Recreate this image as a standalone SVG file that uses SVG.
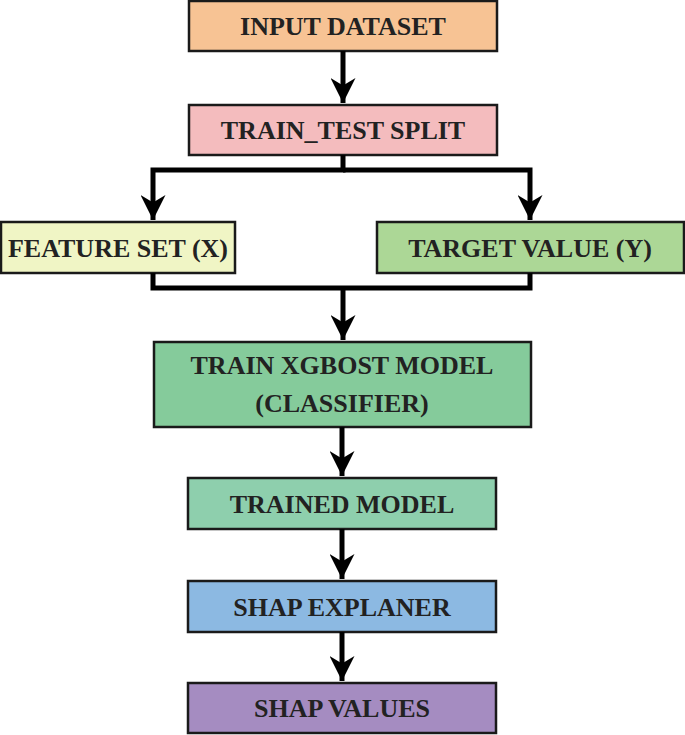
<svg xmlns="http://www.w3.org/2000/svg" width="685" height="735" viewBox="0 0 685 735">
<style>
.b{stroke:#1a1a1a;stroke-width:2.5}
.t{font-family:"Liberation Serif",serif;font-weight:bold;font-size:26px;fill:#222;text-anchor:middle}
.c{fill:none;stroke:#000;stroke-width:5}
</style>
<defs><marker id="a" viewBox="0 0 10 10" refX="10" refY="5" markerWidth="5" markerHeight="5" markerUnits="strokeWidth" orient="auto"><path d="M0,0 L10,5 L0,10 L3,5 z" fill="#000"/></marker></defs>
<g id="n1"><rect class="b" x="189" y="1" width="308" height="50" fill="#f7c394"/><text class="t" x="343" y="35">INPUT DATASET</text></g>
<g id="n2"><rect class="b" x="189" y="105" width="308" height="50" fill="#f4bcbe"/><text class="t" x="343" y="139">TRAIN_TEST SPLIT</text></g>
<g id="n3"><rect class="b" x="1" y="222" width="234" height="51" fill="#f0f5c5"/><text class="t" x="118" y="257">FEATURE SET (X)</text></g>
<g id="n4"><rect class="b" x="377" y="222" width="307" height="51" fill="#acd796"/><text class="t" x="530" y="257">TARGET VALUE (Y)</text></g>
<g id="n5"><rect class="b" x="154" y="342" width="377" height="85" fill="#85cb9b"/><text class="t" x="342" y="374">TRAIN XGBOST MODEL</text><text class="t" x="342" y="412">(CLASSIFIER)</text></g>
<g id="n6"><rect class="b" x="188" y="478" width="308" height="51" fill="#8ecfad"/><text class="t" x="342" y="513">TRAINED MODEL</text></g>
<g id="n7"><rect class="b" x="188" y="581" width="308" height="51" fill="#8cb9e2"/><text class="t" x="342" y="616">SHAP EXPLANER</text></g>
<g id="n8"><rect class="b" x="188" y="683" width="308" height="50" fill="#a58cc1"/><text class="t" x="342" y="717">SHAP VALUES</text></g>
<g id="connectors">
<path class="c" d="M343,51 V103" marker-end="url(#a)"/>
<path class="c" d="M343,155 V170 H153 V220" marker-end="url(#a)"/>
<path class="c" d="M343,170 H530 V220" marker-end="url(#a)"/>
<path class="c" d="M153,273 V288 H530 V273"/>
<path class="c" d="M343,288 V340" marker-end="url(#a)"/>
<path class="c" d="M342,427 V476" marker-end="url(#a)"/>
<path class="c" d="M342,529 V579" marker-end="url(#a)"/>
<path class="c" d="M342,632 V681" marker-end="url(#a)"/>
</g>
</svg>
